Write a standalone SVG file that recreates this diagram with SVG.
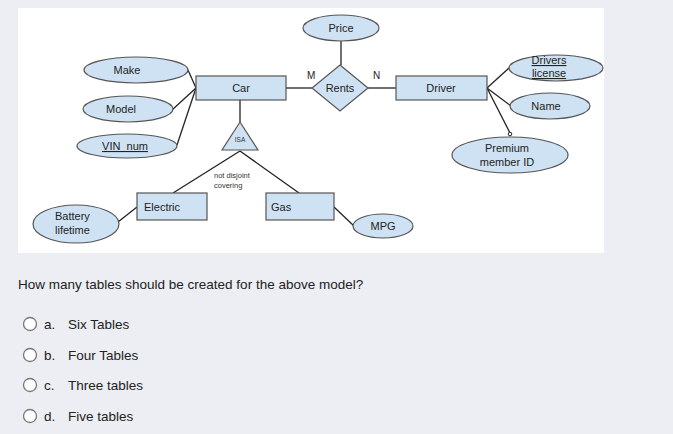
<svg xmlns="http://www.w3.org/2000/svg" width="673" height="434" viewBox="0 0 673 434">
<style>
.s{fill:#cfe2f3;stroke:#555;stroke-width:1.2}
.l{stroke:#222;stroke-width:1.3;fill:none}
text{font-family:"Liberation Sans",Arial,sans-serif;fill:#222}
.t{font-size:11px;text-anchor:middle}
.q{font-size:13.5px;fill:#222}
.r{fill:#fff;stroke:#777;stroke-width:1.3}
</style>
<rect width="673" height="434" fill="#eceef3"/>
<rect x="18" y="8" width="586" height="245" fill="#fff"/>
<g id="connectors">
<line class="l" x1="188" y1="70" x2="196" y2="88"/>
<line class="l" x1="172" y1="110" x2="196" y2="88"/>
<line class="l" x1="177" y1="145" x2="196" y2="88"/>
<line class="l" x1="286" y1="88" x2="312" y2="88"/>
<line class="l" x1="368" y1="88" x2="396" y2="88"/>
<line class="l" x1="341" y1="41" x2="341" y2="65"/>
<line class="l" x1="487" y1="88" x2="509" y2="68"/>
<line class="l" x1="487" y1="88" x2="511" y2="106"/>
<line class="l" x1="487" y1="88" x2="510" y2="133"/>
<circle cx="510" cy="134" r="1.8" fill="#fff" stroke="#222"/>
<line class="l" x1="240" y1="100" x2="240" y2="122"/>
<line class="l" x1="240" y1="151" x2="173" y2="193"/>
<line class="l" x1="240" y1="151" x2="299" y2="193"/>
<line class="l" x1="118" y1="222" x2="137" y2="207"/>
<line class="l" x1="334" y1="207" x2="354" y2="226"/>
<text x="307" y="79" style="font-size:10px">M</text>
<text x="373" y="79" style="font-size:10px">N</text>
<text x="214" y="178" style="font-size:7.5px;fill:#333">not disjoint</text>
<text x="214" y="188" style="font-size:7.5px;fill:#333">covering</text>
</g>
<g id="price"><ellipse class="s" cx="341" cy="28" rx="38" ry="13"/><text class="t" x="341" y="32">Price</text></g>
<g id="make"><ellipse class="s" cx="136" cy="70" rx="52" ry="13"/><text class="t" x="127" y="74">Make</text></g>
<g id="model"><ellipse class="s" cx="128" cy="109" rx="45" ry="13"/><text class="t" x="121" y="113">Model</text></g>
<g id="vin"><ellipse class="s" cx="127" cy="146" rx="50" ry="12"/><text class="t" x="125" y="150" text-decoration="underline">VIN_num</text></g>
<g id="car"><rect class="s" x="196" y="76" width="90" height="24"/><text class="t" x="241" y="92">Car</text></g>
<g id="rents"><polygon class="s" points="340,65 368,88 340,111 312,88"/><text class="t" x="340" y="92">Rents</text></g>
<g id="driver"><rect class="s" x="396" y="76" width="91" height="24"/><text class="t" x="441" y="92">Driver</text></g>
<g id="license"><ellipse class="s" cx="556" cy="68" rx="47" ry="13"/><text class="t" x="549" y="64" text-decoration="underline">Drivers</text><text class="t" x="549" y="77" text-decoration="underline">license</text></g>
<g id="name"><ellipse class="s" cx="550" cy="106" rx="40" ry="13"/><text class="t" x="546" y="110">Name</text></g>
<g id="premium"><ellipse class="s" cx="510" cy="155" rx="58" ry="18"/><text class="t" x="507" y="152">Premium</text><text class="t" x="507" y="166">member ID</text></g>
<g id="isa"><polygon class="s" points="240,122 258,150 222,150"/><text x="240" y="142" style="font-size:6.5px;text-anchor:middle;fill:#333">ISA</text></g>
<g id="electric"><rect class="s" x="137" y="193" width="70" height="27"/><text x="144" y="211" style="font-size:11px">Electric</text></g>
<g id="gas"><rect class="s" x="266" y="193" width="68" height="27"/><text x="271" y="211" style="font-size:11px">Gas</text></g>
<g id="battery"><ellipse class="s" cx="76" cy="224" rx="43" ry="19"/><text x="55" y="220" style="font-size:11px">Battery</text><text x="55" y="234" style="font-size:11px">lifetime</text></g>
<g id="mpg"><ellipse class="s" cx="383" cy="226" rx="30" ry="12"/><text class="t" x="383" y="230">MPG</text></g>
<text class="q" x="18" y="289">How many tables should be created for the above model?</text>
<circle class="r" cx="30" cy="324" r="6.5"/><text class="q" x="44" y="329">a.</text><text class="q" x="68" y="329">Six Tables</text>
<circle class="r" cx="30" cy="355" r="6.5"/><text class="q" x="44" y="360">b.</text><text class="q" x="68" y="360">Four Tables</text>
<circle class="r" cx="30" cy="385" r="6.5"/><text class="q" x="44" y="390">c.</text><text class="q" x="68" y="390">Three tables</text>
<circle class="r" cx="30" cy="416" r="6.5"/><text class="q" x="44" y="421">d.</text><text class="q" x="68" y="421">Five tables</text>
</svg>
